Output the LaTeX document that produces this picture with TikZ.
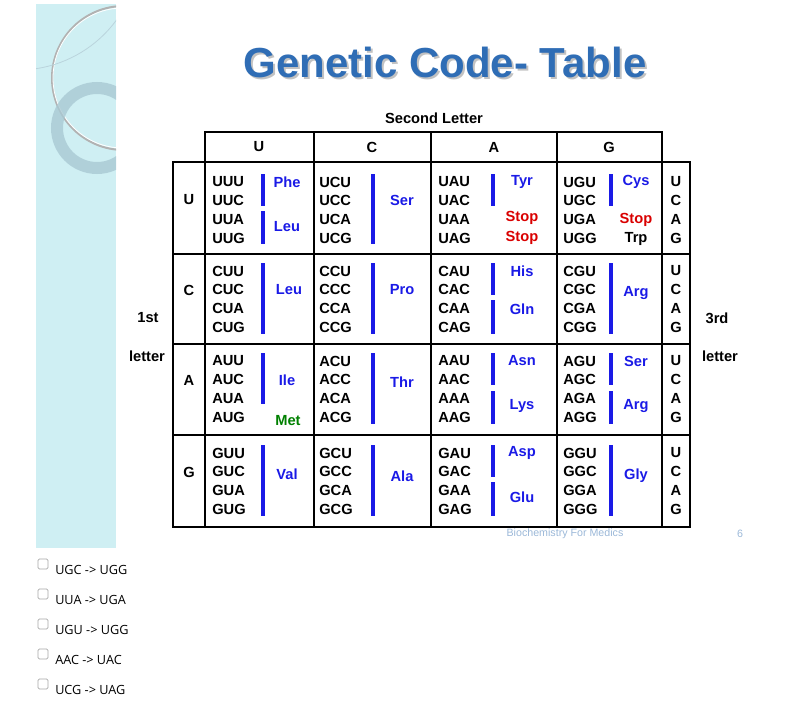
\documentclass[tikz,border=0pt]{standalone}
\usepackage{fontspec}
\setmainfont{Liberation Sans}
\newfontfamily\osans{Open Sans}
\definecolor{aablue}{HTML}{1A1AE6}
\definecolor{titleblue}{HTML}{2F6DB5}
\definecolor{stripc}{HTML}{CFEFF3}
\definecolor{ringc}{HTML}{A9C9D3}
\definecolor{footc}{HTML}{9BB8D8}
\begin{document}
\begin{tikzpicture}[x=0.75pt,y=-0.75pt,
  cod/.style={font=\bfseries\fontsize{11}{12}\selectfont,anchor=west,inner sep=0pt},
  aa/.style={font=\bfseries\fontsize{11}{12}\selectfont,text=aablue,inner sep=0pt},
  stp/.style={font=\bfseries\fontsize{11}{12}\selectfont,text=red!85!black,inner sep=0pt},
  lab/.style={font=\bfseries\fontsize{11}{12}\selectfont,inner sep=0pt},
  bar/.style={draw=aablue,line width=2.5pt},
  grid/.style={draw=black,line width=1.4pt},
  cb/.style={draw=gray!70,rounded corners=1pt,line width=0.5pt},
  opt/.style={font=\osans\fontsize{9.5}{11}\selectfont,anchor=west,inner sep=0pt}]
\useasboundingbox (0,0) rectangle (810,724);
% decorative strip
\fill[stripc] (36,4) rectangle (116,548);
\begin{scope}
\clip (36,4) rectangle (116,548);
\draw[gray!60,line width=1.5pt] (124,78) circle (72);
\draw[white,line width=0.6pt] (123,78) circle (70);
\draw[ringc!80,line width=0.6pt] (18,-52) circle (122);
\draw[ringc,opacity=0.8,line width=9pt] (97,128) circle (40);
\end{scope}
% title
\node[font=\bfseries\fontsize{31.5}{36}\selectfont,text=black!40,opacity=0.6] at (447,64) {Genetic Code- Table};
\node[font=\bfseries\fontsize{31.5}{36}\selectfont,text=titleblue] (title) at (445,62) {Genetic Code- Table};
\node[lab] (sl) at (434,118) {Second Letter};
% grid
\draw[grid] (205,132) rectangle (662,162);
\foreach \x in {314,431,557} \draw[grid] (\x,132) -- (\x,527);
\draw[grid] (173,162) rectangle (690,527);
\foreach \x in {205,662} \draw[grid] (\x,162) -- (\x,527);
\foreach \y in {254,344,435} \draw[grid] (173,\y) -- (690,\y);
% headers
\node[lab] (h1) at (259,147) {U};
\node[lab] (h2) at (372,147) {C};
\node[lab] (h3) at (494,147) {A};
\node[lab] (h4) at (609,147) {G};
\node[lab] (r1) at (189,200) {U};
\node[lab] (r2) at (189,290) {C};
\node[lab] (r3) at (189,380) {A};
\node[lab] (r4) at (189,472) {G};
\node[lab] (f1) at (148,318) {1st};
\node[lab] (f2) at (147,356) {letter};
\node[lab] (t1) at (717,318) {3rd};
\node[lab] (t2) at (720,356) {letter};
% codons
\foreach \r/\y in {U/182,C/271,A/361,G/453}{
  \foreach \b/\x in {U/212,C/319,A/438,G/563}{
    \foreach \t [count=\i from 0] in {U,C,A,G}{
      \pgfmathsetmacro\yy{\y+\i*18.7}
      \node[cod] at (\x,\yy) {\r\b\t};
    }
  }
  \foreach \t [count=\i from 0] in {U,C,A,G}{
    \pgfmathsetmacro\yy{\y+\i*18.7}
    \node[lab] at (676,\yy) {\t};
  }
}
% bars
\draw[bar] (263,174) -- (263,206); \draw[bar] (263,211) -- (263,244);
\draw[bar] (373,174) -- (373,244);
\draw[bar] (493,174) -- (493,206);
\draw[bar] (611,174) -- (611,206);
\draw[bar] (263,263) -- (263,334);
\draw[bar] (373,263) -- (373,334);
\draw[bar] (493,263) -- (493,295); \draw[bar] (493,300) -- (493,334);
\draw[bar] (611,263) -- (611,334);
\draw[bar] (263,353) -- (263,404);
\draw[bar] (373,353) -- (373,424);
\draw[bar] (493,353) -- (493,385); \draw[bar] (493,391) -- (493,424);
\draw[bar] (611,353) -- (611,385); \draw[bar] (611,391) -- (611,424);
\draw[bar] (263,445) -- (263,516);
\draw[bar] (373,445) -- (373,516);
\draw[bar] (493,445) -- (493,477); \draw[bar] (493,482) -- (493,516);
\draw[bar] (611,445) -- (611,516);
% amino acids
\node[aa] at (287,182) {Phe};
\node[aa] at (287,227) {Leu};
\node[aa] at (402,200) {Ser};
\node[aa] at (522,182) {Tyr};
\node[stp] at (522,218) {Stop};
\node[stp] at (522,238) {Stop};
\node[aa] at (636,182) {Cys};
\node[stp] at (636,220) {Stop};
\node[lab] at (636,239) {Trp};
\node[aa] at (289,290) {Leu};
\node[aa] at (402,290) {Pro};
\node[aa] at (522,271) {His};
\node[aa] at (522,309) {Gln};
\node[aa] at (636,293) {Arg};
\node[aa] at (287,380) {Ile};
\node[lab,text=green!50!black] at (288,421) {Met};
\node[aa] at (402,382) {Thr};
\node[aa] at (522,361) {Asn};
\node[aa] at (522,406) {Lys};
\node[aa] at (636,361) {Ser};
\node[aa] at (636,406) {Arg};
\node[aa] at (287,474) {Val};
\node[aa] at (402,476) {Ala};
\node[aa] at (522,453) {Asp};
\node[aa] at (522,497) {Glu};
\node[aa] at (636,476) {Gly};
% footer
\node[font=\fontsize{8}{9}\selectfont,text=footc] (ft) at (565,534) {Biochemistry For Medics};
\node[font=\fontsize{8}{9}\selectfont,text=footc] (pg) at (740,534) {6};
% options
\foreach \y/\t in {565/{UGC -> UGG},595/{UUA -> UGA},625/{UGU -> UGG},655/{AAC -> UAC},685/{UCG -> UAG}}{
  \draw[cb] (38,\y-6) rectangle (48,\y+4);
  \node[opt] at (55,\y+5) {\t};
}
\end{tikzpicture}
\end{document}
